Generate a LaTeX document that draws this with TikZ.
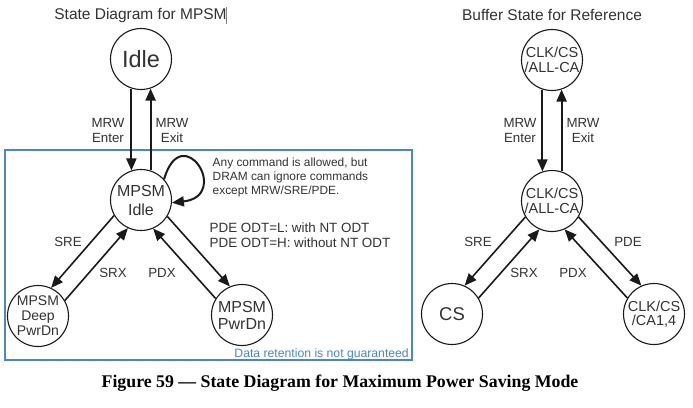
\documentclass[tikz,border=0pt]{standalone}
\usepackage{fontspec}
\setmainfont{Liberation Sans}
\newfontfamily\capfont{Liberation Serif}
\usetikzlibrary{arrows.meta}
\definecolor{txt}{HTML}{333333}
\definecolor{ln}{HTML}{1A1A1A}
\definecolor{boxblue}{HTML}{4A86C8}
\begin{document}
\begin{tikzpicture}[x=1pt,y=-1pt,
  state/.style={circle,draw=ln,line width=1.1pt,minimum size=61pt,inner sep=0pt,align=center,text=txt},
  fs/.style 2 args={font=\fontsize{#1}{#2}\selectfont},
  vtrans/.style={line width=2pt,draw=ln,-{Triangle[length=12pt,width=10pt]}},
  dtrans/.style={line width=1.6pt,draw=ln,-{Triangle[length=12pt,width=10pt]}},
  lbl/.style={text=txt,font=\fontsize{13.3}{15}\selectfont,align=center,inner sep=0pt}
]
\useasboundingbox[fill=white] (0,0) rectangle (693,407);

% titles
\node[lbl,font=\fontsize{15.5}{17}\selectfont] (t1) at (140.5,15) {State Diagram for MPSM};
\node[lbl,font=\fontsize{15.5}{17}\selectfont] (t2) at (552,15) {Buffer State for Reference};
\coordinate (cur1) at (226,7);
\coordinate (cur2) at (226,24);
\draw[gray,line width=0.6pt] (cur1) -- (cur2);

% blue box
\coordinate (bx1) at (5,150);
\coordinate (bx2) at (412,360);
\draw[boxblue,line width=1.1pt] (bx1) rectangle (bx2);
\node[text=boxblue,font=\fontsize{12.2}{13}\selectfont,anchor=east,inner sep=0pt] (dr) at (409,354) {Data retention is not guaranteed};

% left states
\node[state,fs={23.5}{26}] (idle) at (141,59) {Idle};
\node[state,fs={16}{19}] (mi) at (141,200) {MPSM\\Idle};
\node[state,fs={14}{15}] (deep) at (38,316) {MPSM\\Deep\\PwrDn};
\node[state,fs={16}{17}] (pd) at (242,315) {MPSM\\PwrDn};

% right states
\node[state,fs={14.5}{15}] (rtop) at (552,60) {CLK/CS\\/ALL-CA};
\node[state,fs={14.5}{15}] (rmid) at (552,201) {CLK/CS\\/ALL-CA};
\node[state,fs={18.5}{20}] (cs) at (452,314) {CS};
\node[state,fs={14.5}{14}] (ca) at (654,314) {CLK/CS\\/CA1,4};

% left transitions
\draw[vtrans] (idle.252) -- (mi.108);
\draw[vtrans] (mi.72) -- (idle.288);
\draw[dtrans] (mi.210.6) -- (deep.65.6);
\draw[dtrans] (deep.30.6) -- (mi.245.6);
\draw[dtrans] (mi.328.8) -- (pd.113.8);
\draw[dtrans] (pd.148.8) -- (mi.293.8);
\draw[line width=2pt,draw=ln,-{Triangle[length=12pt,width=10pt]}] (mi.42) .. controls (182,118) and (232,196) .. (mi.355);

% right transitions
\draw[vtrans] (rtop.252) -- (rmid.108);
\draw[vtrans] (rmid.72) -- (rtop.288);
\draw[dtrans] (rmid.211) -- (cs.66);
\draw[dtrans] (cs.31) -- (rmid.246);
\draw[dtrans] (rmid.329.6) -- (ca.114.6);
\draw[dtrans] (ca.149.6) -- (rmid.294.6);

% labels left
\node[lbl] (l1) at (108,130.5) {MRW\\Enter};
\node[lbl] (l2) at (172,130.5) {MRW\\Exit};
\node[lbl] (l3) at (68,242) {SRE};
\node[lbl] (l4) at (113,273) {SRX};
\node[lbl] (l5) at (162,273) {PDX};
\node[lbl,align=left,anchor=west,font=\fontsize{11.9}{14}\selectfont] (note) at (212.5,177) {Any command is allowed, but\\DRAM can ignore commands\\except MRW/SRE/PDE.};
\node[lbl,align=left,anchor=west,font=\fontsize{13.4}{15}\selectfont] (odt) at (209.5,235.5) {PDE ODT=L: with NT ODT\\PDE ODT=H: without NT ODT};

% labels right
\node[lbl] (r1) at (520,130.5) {MRW\\Enter};
\node[lbl] (r2) at (583,130.5) {MRW\\Exit};
\node[lbl] (r3) at (478,242) {SRE};
\node[lbl] (r4) at (524,273) {SRX};
\node[lbl] (r5) at (573,273) {PDX};
\node[lbl] (r6) at (628,242) {PDE};

% caption
\node[inner sep=0pt,font=\capfont\bfseries\fontsize{17.8}{20}\selectfont] (cap) at (340,383) {Figure 59 — State Diagram for Maximum Power Saving Mode};
\end{tikzpicture}
\end{document}
